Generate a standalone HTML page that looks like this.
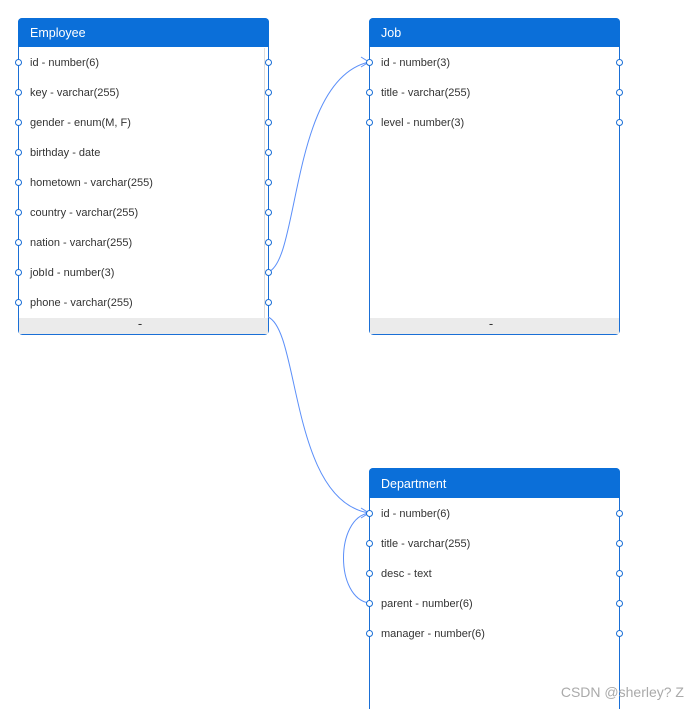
<!DOCTYPE html>
<html><head><style>body{margin:0;background:#fff}svg{display:block}text{font-family:"Liberation Sans",sans-serif;font-size:11px;fill:#333}</style></head><body>
<svg width="700" height="709" viewBox="0 0 700 709">
<defs><clipPath id="c1"><rect x="18" y="18" width="251" height="317" rx="4"/></clipPath></defs>
<!-- Employee -->
<rect x="18.5" y="18.5" width="250" height="316" rx="4" fill="#fff" stroke="#1a6fd6"/>
<path d="M18 47V22a4 4 0 0 1 4-4h243a4 4 0 0 1 4 4v25z" fill="#0b6fd9"/>
<rect x="19" y="318" width="249" height="16" fill="#ebebeb" clip-path="url(#c1)"/>
<line x1="264.5" y1="48" x2="264.5" y2="318" stroke="#ddd"/>
<text x="30" y="37" style="fill:#fff;font-size:12.5px">Employee</text>
<text x="140" y="328" text-anchor="middle" style="font-size:13px">-</text>
<g>
<text x="30" y="66">id - number(6)</text>
<text x="30" y="96">key - varchar(255)</text>
<text x="30" y="126">gender - enum(M, F)</text>
<text x="30" y="156">birthday - date</text>
<text x="30" y="186">hometown - varchar(255)</text>
<text x="30" y="216">country - varchar(255)</text>
<text x="30" y="246">nation - varchar(255)</text>
<text x="30" y="276">jobId - number(3)</text>
<text x="30" y="306">phone - varchar(255)</text>
</g>
<!-- Job -->
<rect x="369.5" y="18.5" width="250" height="316" rx="4" fill="#fff" stroke="#1a6fd6"/>
<path d="M369 47V22a4 4 0 0 1 4-4h243a4 4 0 0 1 4 4v25z" fill="#0b6fd9"/>
<rect x="370" y="318" width="249" height="16" fill="#ebebeb"/>
<text x="381" y="37" style="fill:#fff;font-size:12.5px">Job</text>
<text x="491" y="328" text-anchor="middle" style="font-size:13px">-</text>
<text x="381" y="66">id - number(3)</text>
<text x="381" y="96">title - varchar(255)</text>
<text x="381" y="126">level - number(3)</text>
<!-- Department -->
<path d="M369.5 720V472.5a4 4 0 0 1 4-4h242a4 4 0 0 1 4 4V720" fill="#fff" stroke="#1a6fd6"/>
<path d="M369 498V472a4 4 0 0 1 4-4h243a4 4 0 0 1 4 4v26z" fill="#0b6fd9"/>
<text x="381" y="488" style="fill:#fff;font-size:12.5px">Department</text>
<text x="381" y="517">id - number(6)</text>
<text x="381" y="547">title - varchar(255)</text>
<text x="381" y="577">desc - text</text>
<text x="381" y="607">parent - number(6)</text>
<text x="381" y="637">manager - number(6)</text>
<!-- connectors -->
<g fill="none" stroke="#5b8ff9" stroke-width="1">
<path d="M268 272C300 262 290 80 369 62"/>
<path d="M361 57L369 62L361 67"/>
<path d="M268 317C300 330 290 500 369 513"/>
<path d="M361 508L369 513L361 518"/>
<path d="M369 603C335 598 335 518 369 513"/>
</g>
<!-- ports -->
<g fill="#fff" stroke="#1a6fd6">
<circle cx="18.5" cy="62.5" r="3"/><circle cx="18.5" cy="92.5" r="3"/><circle cx="18.5" cy="122.5" r="3"/><circle cx="18.5" cy="152.5" r="3"/><circle cx="18.5" cy="182.5" r="3"/><circle cx="18.5" cy="212.5" r="3"/><circle cx="18.5" cy="242.5" r="3"/><circle cx="18.5" cy="272.5" r="3"/><circle cx="18.5" cy="302.5" r="3"/>
<circle cx="268.5" cy="62.5" r="3"/><circle cx="268.5" cy="92.5" r="3"/><circle cx="268.5" cy="122.5" r="3"/><circle cx="268.5" cy="152.5" r="3"/><circle cx="268.5" cy="182.5" r="3"/><circle cx="268.5" cy="212.5" r="3"/><circle cx="268.5" cy="242.5" r="3"/><circle cx="268.5" cy="272.5" r="3"/><circle cx="268.5" cy="302.5" r="3"/>
<circle cx="369.5" cy="62.5" r="3"/><circle cx="369.5" cy="92.5" r="3"/><circle cx="369.5" cy="122.5" r="3"/>
<circle cx="619.5" cy="62.5" r="3"/><circle cx="619.5" cy="92.5" r="3"/><circle cx="619.5" cy="122.5" r="3"/>
<circle cx="369.5" cy="513.5" r="3"/><circle cx="369.5" cy="543.5" r="3"/><circle cx="369.5" cy="573.5" r="3"/><circle cx="369.5" cy="603.5" r="3"/><circle cx="369.5" cy="633.5" r="3"/>
<circle cx="619.5" cy="513.5" r="3"/><circle cx="619.5" cy="543.5" r="3"/><circle cx="619.5" cy="573.5" r="3"/><circle cx="619.5" cy="603.5" r="3"/><circle cx="619.5" cy="633.5" r="3"/>
</g>
<text x="684" y="697" text-anchor="end" style="font-size:14px;fill:#aaa">CSDN @sherley? Z</text>
</svg>
</body></html>
